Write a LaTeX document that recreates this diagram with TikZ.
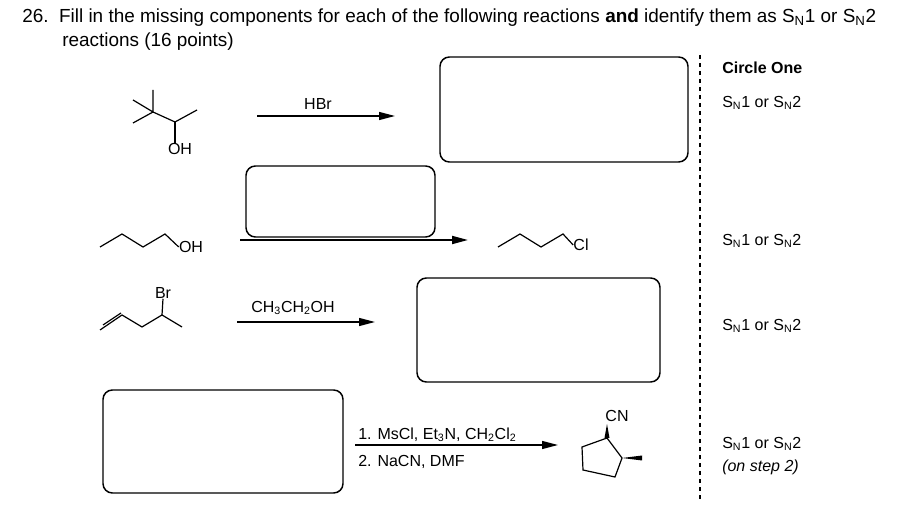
\documentclass[tikz,border=0pt]{standalone}
\usepackage{fontspec}
\setmainfont{Liberation Sans}
\usetikzlibrary{arrows.meta}
\begin{document}
\begin{tikzpicture}[x=0.75pt,y=-0.75pt,
  box/.style={draw,line width=1.1pt,rounded corners=7pt},
  bond/.style={line width=0.9pt},
  arr/.style={line width=1pt,-{Triangle[length=12pt,width=6pt]}},
  lbl/.style={font=\fontsize{12}{14}\selectfont,inner sep=0pt},
  ttl/.style={font=\fontsize{14.2}{16}\selectfont,inner sep=0pt,anchor=base west}]
\useasboundingbox (0,0) rectangle (914,516);
\node[ttl] (t1) at (22,23) {26.\ \ Fill in the missing components for each of the following reactions \textbf{and} identify them as S\textsubscript{N}1 or S\textsubscript{N}2};
\node[ttl] (t2) at (62,47) {reactions (16 points)};
% molecule 1
\coordinate (q) at (153,112); \coordinate (ch) at (175,122);
\draw[bond] (153,90)--(q) (133,100)--(q) (133,123)--(q) (q)--(ch)--(197,110);
\node[lbl] (oh1) at (180,149) {OH};
\draw[bond] (ch)--(oh1.north -| ch);
% molecule 2
\node[lbl] (oh2) at (191,247) {OH};
\draw[bond] (100,247)--(122,234)--(143,247)--(165,234)--(oh2.west);
% molecule 3
\node[lbl] (br) at (163,293) {Br};
\draw[bond] (100,330)--(122,315)--(142,327)--(162,315)--(182,327) (162,315)--(br.south);
\draw[bond] (103,325)--(121,313);
% product chloride
\node[lbl] (cl) at (581,245) {Cl};
\draw[bond] (498,247)--(520,234)--(541,247)--(563,234)--(cl.west);
% cyclopentane
\coordinate (c1) at (607,438); \coordinate (c2) at (622,458);
\draw[bond] (c1)--(c2)--(615,477)--(583,470)--(582,447)--cycle;
\node[lbl] (cn) at (617,416) {CN};
\fill (604.5,438) -- (607,424) -- (609.5,438) -- cycle;
\fill (c2) -- (642,455.5) -- (642,460.5) -- cycle;
% boxes
\draw[box] (440,57) rectangle (688,162);
\draw[box] (246,166) rectangle (435,237);
\draw[box] (417,278) rectangle (660,382);
\draw[box] (103,390) rectangle (343,493);
% arrows
\coordinate (a1s) at (257,116); \coordinate (a1e) at (395,116);
\draw[arr] (a1s)--(a1e);
\node[lbl] (hbr) at (318,104) {HBr};
\coordinate (a2s) at (240,240); \coordinate (a2e) at (468,240);
\draw[arr,line width=1.4pt] (a2s)--(a2e);
\coordinate (a3s) at (237,322); \coordinate (a3e) at (375,322);
\draw[arr] (a3s)--(a3e);
\node[lbl] (et) at (293,308) {CH\textsubscript{3}CH\textsubscript{2}OH};
\coordinate (a4s) at (355,445); \coordinate (a4e) at (558,445);
\draw[arr] (a4s)--(a4e);
\node[lbl,anchor=west] (s1) at (358,435) {1. MsCl, Et\textsubscript{3}N, CH\textsubscript{2}Cl\textsubscript{2}};
\node[lbl,anchor=west] (s2) at (358,462) {2. NaCN, DMF};
% divider
\coordinate (d1) at (700,55); \coordinate (d2) at (700,502);
\draw[thick,dash pattern=on 3pt off 3pt] (d1)--(d2);
\node[lbl,anchor=west,font=\bfseries\fontsize{12}{14}\selectfont] (co) at (722,68) {Circle One};
\node[lbl,anchor=west] (r1) at (722,103) {S\textsubscript{N}1 or S\textsubscript{N}2};
\node[lbl,anchor=west] (r2) at (722,241) {S\textsubscript{N}1 or S\textsubscript{N}2};
\node[lbl,anchor=west] (r3) at (722,326) {S\textsubscript{N}1 or S\textsubscript{N}2};
\node[lbl,anchor=west] (r4) at (722,444) {S\textsubscript{N}1 or S\textsubscript{N}2};
\node[lbl,anchor=west,font=\itshape\fontsize{12}{14}\selectfont] (r5) at (722,467) {(on step 2)};
\end{tikzpicture}
\end{document}
